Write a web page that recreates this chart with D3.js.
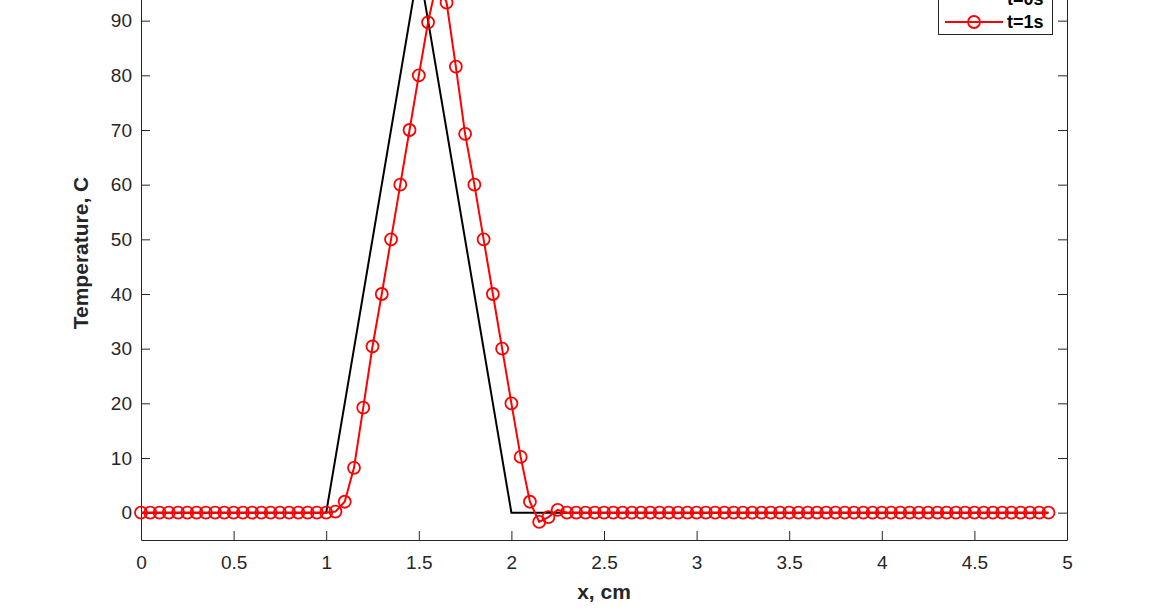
<!DOCTYPE html>
<html>
<head>
<meta charset="utf-8">
<script src="https://cdn.jsdelivr.net/npm/d3@7"></script>
<style>
  body { margin: 0; background: #fff; }
  svg { display: block; font-family: "Liberation Sans", Arial, sans-serif; }
</style>
</head>
<body>
<div id="chart"></div>
<script>
// DATA
// x grid of the t=1s profile (cm)
const xGrid = [
  0, 0.05, 0.1, 0.15, 0.2, 0.25, 0.3, 0.35, 0.4, 0.45,
  0.5, 0.55, 0.6, 0.65, 0.7, 0.75, 0.8, 0.85, 0.9, 0.95,
  1, 1.05, 1.1, 1.15, 1.2, 1.25, 1.3, 1.35, 1.4, 1.45,
  1.5, 1.55, 1.6, 1.65, 1.7, 1.75, 1.8, 1.85, 1.9, 1.95,
  2, 2.05, 2.1, 2.15, 2.2, 2.25, 2.3, 2.35, 2.4, 2.45,
  2.5, 2.55, 2.6, 2.65, 2.7, 2.75, 2.8, 2.85, 2.9, 2.95,
  3, 3.05, 3.1, 3.15, 3.2, 3.25, 3.3, 3.35, 3.4, 3.45,
  3.5, 3.55, 3.6, 3.65, 3.7, 3.75, 3.8, 3.85, 3.9, 3.95,
  4, 4.05, 4.1, 4.15, 4.2, 4.25, 4.3, 4.35, 4.4, 4.45,
  4.5, 4.55, 4.6, 4.65, 4.7, 4.75, 4.8, 4.85, 4.9
];
// temperature at t=1s (C)
const temp1s = [
  0, 0, 0, 0, 0, 0, 0, 0, 0, 0,
  0, 0, 0, 0, 0, 0, 0, 0, 0, 0,
  0, 0.2, 2.0, 8.2, 19.2, 30.4, 40, 50, 60, 70,
  80, 89.7, 97.5, 93.3, 81.6, 69.3, 60, 50, 40, 30,
  20, 10.2, 2.0, -1.7, -0.8, 0.5, 0, 0, 0, 0,
  0, 0, 0, 0, 0, 0, 0, 0, 0, 0,
  0, 0, 0, 0, 0, 0, 0, 0, 0, 0,
  0, 0, 0, 0, 0, 0, 0, 0, 0, 0,
  0, 0, 0, 0, 0, 0, 0, 0, 0, 0,
  0, 0, 0, 0, 0, 0, 0, 0, 0
];
// initial profile t=0s (breakpoints)
const x0s = [0, 1, 1.5, 2, 4.9];
const temp0s = [0, 0, 100, 0, 0];

const xTicks = [0, 0.5, 1, 1.5, 2, 2.5, 3, 3.5, 4, 4.5, 5];
const yTicks = [0, 10, 20, 30, 40, 50, 60, 70, 80, 90, 100];
const legendLabels = ["t=0s", "t=1s"];

// SIZE
const W = 1168, H = 613;
const axColor = "#262626";

const svg = d3.select("#chart").append("svg")
    .attr("width", W)
    .attr("height", H);

const x = d3.scaleLinear().domain([0, 5]).range([141, 1067]);
const y = d3.scaleLinear().domain([-5, 100]).range([540, -34]);

// AXES
const xAxis = svg.append("g")
    .attr("transform", `translate(0, ${y(-5)})`)
    .call(d3.axisBottom(x).tickValues(xTicks).tickFormat(d3.format("")).tickSizeInner(-9).tickSizeOuter(0).tickPadding(16));

const yAxis = svg.append("g")
    .attr("transform", `translate(${x(0)}, 0)`)
    .call(d3.axisLeft(y).tickValues(yTicks).tickSizeInner(-9).tickSizeOuter(0).tickPadding(9));

const yAxisR = svg.append("g")
    .attr("transform", `translate(${x(5)}, 0)`)
    .call(d3.axisRight(y).tickValues(yTicks).tickFormat("").tickSizeInner(-9).tickSizeOuter(0));

[xAxis, yAxis, yAxisR].forEach(g => {
  g.select(".domain").attr("stroke", axColor);
  g.selectAll(".tick line").attr("stroke", axColor);
  g.selectAll(".tick text")
      .attr("fill", axColor)
      .style("font-size", "19px")
      .style("font-family", "'Liberation Sans', Arial, sans-serif");
});

// axis labels
svg.append("text")
    .attr("x", (x(0) + x(5)) / 2)
    .attr("y", 599)
    .attr("text-anchor", "middle")
    .attr("fill", axColor)
    .style("font-size", "21px")
    .style("font-weight", "bold")
    .text("x, cm");

svg.append("text")
    .attr("transform", "rotate(-90)")
    .attr("x", -(y(-5) + y(100)) / 2)
    .attr("y", 88)
    .attr("text-anchor", "middle")
    .attr("fill", axColor)
    .style("font-size", "21px")
    .style("font-weight", "bold")
    .text("Temperature, C");

// LINES
const line = d3.line().x(d => x(d[0])).y(d => y(d[1]));

svg.append("path")
    .datum(x0s.map((v, i) => [v, temp0s[i]]))
    .attr("fill", "none")
    .attr("stroke", "black")
    .attr("stroke-width", 2)
    .attr("d", line);

const pts1 = xGrid.map((v, i) => [v, temp1s[i]]);

svg.append("path")
    .datum(pts1)
    .attr("fill", "none")
    .attr("stroke", "red")
    .attr("stroke-width", 2)
    .attr("d", line);

svg.selectAll(".marker")
    .data(pts1)
    .enter()
    .append("circle")
    .attr("class", "marker")
    .attr("cx", d => x(d[0]))
    .attr("cy", d => y(d[1]))
    .attr("r", 6)
    .attr("fill", "none")
    .attr("stroke", "red")
    .attr("stroke-width", 1.8);

// LEGEND
const legend = svg.append("g");

legend.append("rect")
    .attr("x", 938.5)
    .attr("y", -13.5)
    .attr("width", 114)
    .attr("height", 48)
    .attr("fill", "white")
    .attr("stroke", axColor)
    .attr("stroke-width", 1);

const entries = legend.selectAll(".entry")
    .data(legendLabels)
    .enter()
    .append("g")
    .attr("class", "entry")
    .attr("transform", (d, i) => `translate(0, ${-1 + i * 23})`);

entries.append("line")
    .attr("x1", 945)
    .attr("x2", 1003)
    .attr("stroke", (d, i) => i === 0 ? "black" : "red")
    .attr("stroke-width", 2);

entries.filter((d, i) => i === 1)
    .append("circle")
    .attr("cx", 974)
    .attr("r", 6)
    .attr("fill", "none")
    .attr("stroke", "red")
    .attr("stroke-width", 1.8);

entries.append("text")
    .attr("x", 1007)
    .attr("dy", "0.35em")
    .attr("fill", "black")
    .style("font-size", "18px")
    .style("font-weight", "bold")
    .text(d => d);
</script>
</body>
</html>
